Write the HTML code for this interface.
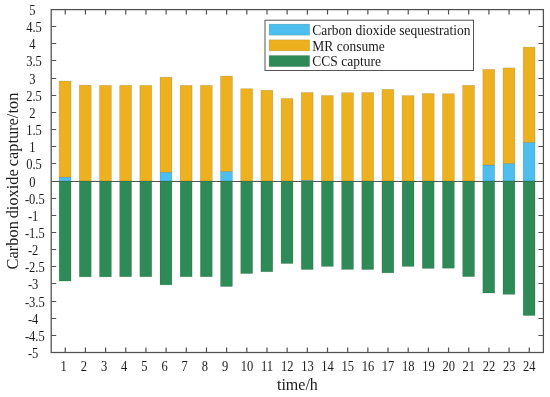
<!DOCTYPE html>
<html><head><meta charset="utf-8"><style>html,body{margin:0;padding:0;background:#fff;}svg{display:block;}</style></head>
<body><svg width="550" height="397" viewBox="0 0 550 397"><rect x="0" y="0" width="550" height="397" fill="#fff"/><line x1="51.2" y1="181.5" x2="543.4" y2="181.5" stroke="#555" stroke-width="1"/><rect x="59.15" y="177.15" width="11.9" height="4.00" fill="#4dbeee" stroke="#000" stroke-opacity="0.16" stroke-width="0.7"/><rect x="59.15" y="81.06" width="11.9" height="96.09" fill="#edb120" stroke="#000" stroke-opacity="0.16" stroke-width="0.7"/><rect x="59.15" y="181.15" width="11.9" height="99.90" fill="#2e8b57" stroke="#000" stroke-opacity="0.16" stroke-width="0.7"/><rect x="79.32" y="85.20" width="11.9" height="95.95" fill="#edb120" stroke="#000" stroke-opacity="0.16" stroke-width="0.7"/><rect x="79.32" y="181.15" width="11.9" height="95.70" fill="#2e8b57" stroke="#000" stroke-opacity="0.16" stroke-width="0.7"/><rect x="99.50" y="85.35" width="11.9" height="95.80" fill="#edb120" stroke="#000" stroke-opacity="0.16" stroke-width="0.7"/><rect x="99.50" y="181.15" width="11.9" height="95.70" fill="#2e8b57" stroke="#000" stroke-opacity="0.16" stroke-width="0.7"/><rect x="119.67" y="85.35" width="11.9" height="95.80" fill="#edb120" stroke="#000" stroke-opacity="0.16" stroke-width="0.7"/><rect x="119.67" y="181.15" width="11.9" height="95.60" fill="#2e8b57" stroke="#000" stroke-opacity="0.16" stroke-width="0.7"/><rect x="139.85" y="85.40" width="11.9" height="95.75" fill="#edb120" stroke="#000" stroke-opacity="0.16" stroke-width="0.7"/><rect x="139.85" y="181.15" width="11.9" height="95.60" fill="#2e8b57" stroke="#000" stroke-opacity="0.16" stroke-width="0.7"/><rect x="160.02" y="172.20" width="11.9" height="8.95" fill="#4dbeee" stroke="#000" stroke-opacity="0.16" stroke-width="0.7"/><rect x="160.02" y="77.20" width="11.9" height="95.00" fill="#edb120" stroke="#000" stroke-opacity="0.16" stroke-width="0.7"/><rect x="160.02" y="181.15" width="11.9" height="103.70" fill="#2e8b57" stroke="#000" stroke-opacity="0.16" stroke-width="0.7"/><rect x="180.19" y="85.40" width="11.9" height="95.75" fill="#edb120" stroke="#000" stroke-opacity="0.16" stroke-width="0.7"/><rect x="180.19" y="181.15" width="11.9" height="95.60" fill="#2e8b57" stroke="#000" stroke-opacity="0.16" stroke-width="0.7"/><rect x="200.37" y="85.40" width="11.9" height="95.75" fill="#edb120" stroke="#000" stroke-opacity="0.16" stroke-width="0.7"/><rect x="200.37" y="181.15" width="11.9" height="95.60" fill="#2e8b57" stroke="#000" stroke-opacity="0.16" stroke-width="0.7"/><rect x="220.54" y="171.40" width="11.9" height="9.75" fill="#4dbeee" stroke="#000" stroke-opacity="0.16" stroke-width="0.7"/><rect x="220.54" y="76.10" width="11.9" height="95.30" fill="#edb120" stroke="#000" stroke-opacity="0.16" stroke-width="0.7"/><rect x="220.54" y="181.15" width="11.9" height="105.40" fill="#2e8b57" stroke="#000" stroke-opacity="0.16" stroke-width="0.7"/><rect x="240.72" y="88.70" width="11.9" height="92.45" fill="#edb120" stroke="#000" stroke-opacity="0.16" stroke-width="0.7"/><rect x="240.72" y="181.15" width="11.9" height="92.40" fill="#2e8b57" stroke="#000" stroke-opacity="0.16" stroke-width="0.7"/><rect x="260.89" y="90.30" width="11.9" height="90.85" fill="#edb120" stroke="#000" stroke-opacity="0.16" stroke-width="0.7"/><rect x="260.89" y="181.15" width="11.9" height="90.60" fill="#2e8b57" stroke="#000" stroke-opacity="0.16" stroke-width="0.7"/><rect x="281.06" y="98.50" width="11.9" height="82.65" fill="#edb120" stroke="#000" stroke-opacity="0.16" stroke-width="0.7"/><rect x="281.06" y="181.15" width="11.9" height="82.40" fill="#2e8b57" stroke="#000" stroke-opacity="0.16" stroke-width="0.7"/><rect x="301.24" y="180.30" width="11.9" height="0.85" fill="#4dbeee" stroke="#000" stroke-opacity="0.16" stroke-width="0.7"/><rect x="301.24" y="92.50" width="11.9" height="87.80" fill="#edb120" stroke="#000" stroke-opacity="0.16" stroke-width="0.7"/><rect x="301.24" y="181.15" width="11.9" height="88.40" fill="#2e8b57" stroke="#000" stroke-opacity="0.16" stroke-width="0.7"/><rect x="321.41" y="95.50" width="11.9" height="85.65" fill="#edb120" stroke="#000" stroke-opacity="0.16" stroke-width="0.7"/><rect x="321.41" y="181.15" width="11.9" height="85.30" fill="#2e8b57" stroke="#000" stroke-opacity="0.16" stroke-width="0.7"/><rect x="341.59" y="92.70" width="11.9" height="88.45" fill="#edb120" stroke="#000" stroke-opacity="0.16" stroke-width="0.7"/><rect x="341.59" y="181.15" width="11.9" height="88.30" fill="#2e8b57" stroke="#000" stroke-opacity="0.16" stroke-width="0.7"/><rect x="361.76" y="92.50" width="11.9" height="88.65" fill="#edb120" stroke="#000" stroke-opacity="0.16" stroke-width="0.7"/><rect x="361.76" y="181.15" width="11.9" height="88.40" fill="#2e8b57" stroke="#000" stroke-opacity="0.16" stroke-width="0.7"/><rect x="381.93" y="89.40" width="11.9" height="91.75" fill="#edb120" stroke="#000" stroke-opacity="0.16" stroke-width="0.7"/><rect x="381.93" y="181.15" width="11.9" height="91.70" fill="#2e8b57" stroke="#000" stroke-opacity="0.16" stroke-width="0.7"/><rect x="402.11" y="95.60" width="11.9" height="85.55" fill="#edb120" stroke="#000" stroke-opacity="0.16" stroke-width="0.7"/><rect x="402.11" y="181.15" width="11.9" height="85.30" fill="#2e8b57" stroke="#000" stroke-opacity="0.16" stroke-width="0.7"/><rect x="422.28" y="93.50" width="11.9" height="87.65" fill="#edb120" stroke="#000" stroke-opacity="0.16" stroke-width="0.7"/><rect x="422.28" y="181.15" width="11.9" height="87.30" fill="#2e8b57" stroke="#000" stroke-opacity="0.16" stroke-width="0.7"/><rect x="442.46" y="93.70" width="11.9" height="87.45" fill="#edb120" stroke="#000" stroke-opacity="0.16" stroke-width="0.7"/><rect x="442.46" y="181.15" width="11.9" height="87.10" fill="#2e8b57" stroke="#000" stroke-opacity="0.16" stroke-width="0.7"/><rect x="462.63" y="85.35" width="11.9" height="95.80" fill="#edb120" stroke="#000" stroke-opacity="0.16" stroke-width="0.7"/><rect x="462.63" y="181.15" width="11.9" height="95.50" fill="#2e8b57" stroke="#000" stroke-opacity="0.16" stroke-width="0.7"/><rect x="482.80" y="164.90" width="11.9" height="16.25" fill="#4dbeee" stroke="#000" stroke-opacity="0.16" stroke-width="0.7"/><rect x="482.80" y="69.40" width="11.9" height="95.50" fill="#edb120" stroke="#000" stroke-opacity="0.16" stroke-width="0.7"/><rect x="482.80" y="181.15" width="11.9" height="111.85" fill="#2e8b57" stroke="#000" stroke-opacity="0.16" stroke-width="0.7"/><rect x="502.98" y="163.40" width="11.9" height="17.75" fill="#4dbeee" stroke="#000" stroke-opacity="0.16" stroke-width="0.7"/><rect x="502.98" y="67.90" width="11.9" height="95.50" fill="#edb120" stroke="#000" stroke-opacity="0.16" stroke-width="0.7"/><rect x="502.98" y="181.15" width="11.9" height="113.20" fill="#2e8b57" stroke="#000" stroke-opacity="0.16" stroke-width="0.7"/><rect x="523.15" y="142.30" width="11.9" height="38.85" fill="#4dbeee" stroke="#000" stroke-opacity="0.16" stroke-width="0.7"/><rect x="523.15" y="47.15" width="11.9" height="95.15" fill="#edb120" stroke="#000" stroke-opacity="0.16" stroke-width="0.7"/><rect x="523.15" y="181.15" width="11.9" height="134.40" fill="#2e8b57" stroke="#000" stroke-opacity="0.16" stroke-width="0.7"/><rect x="51.2" y="9.6" width="492.20" height="342.90" fill="none" stroke="#505050" stroke-width="1.25"/><path d="M65.25 9.6V14.6M65.25 352.5V347.5M85.42 9.6V14.6M85.42 352.5V347.5M105.60 9.6V14.6M105.60 352.5V347.5M125.77 9.6V14.6M125.77 352.5V347.5M145.95 9.6V14.6M145.95 352.5V347.5M166.12 9.6V14.6M166.12 352.5V347.5M186.29 9.6V14.6M186.29 352.5V347.5M206.47 9.6V14.6M206.47 352.5V347.5M226.64 9.6V14.6M226.64 352.5V347.5M246.82 9.6V14.6M246.82 352.5V347.5M266.99 9.6V14.6M266.99 352.5V347.5M287.16 9.6V14.6M287.16 352.5V347.5M307.34 9.6V14.6M307.34 352.5V347.5M327.51 9.6V14.6M327.51 352.5V347.5M347.69 9.6V14.6M347.69 352.5V347.5M367.86 9.6V14.6M367.86 352.5V347.5M388.03 9.6V14.6M388.03 352.5V347.5M408.21 9.6V14.6M408.21 352.5V347.5M428.38 9.6V14.6M428.38 352.5V347.5M448.56 9.6V14.6M448.56 352.5V347.5M468.73 9.6V14.6M468.73 352.5V347.5M488.90 9.6V14.6M488.90 352.5V347.5M509.08 9.6V14.6M509.08 352.5V347.5M529.25 9.6V14.6M529.25 352.5V347.5M51.2 352.50H56.2M543.4 352.50H538.4M51.2 335.50H56.2M543.4 335.50H538.4M51.2 318.50H56.2M543.4 318.50H538.4M51.2 301.50H56.2M543.4 301.50H538.4M51.2 283.50H56.2M543.4 283.50H538.4M51.2 266.50H56.2M543.4 266.50H538.4M51.2 249.50H56.2M543.4 249.50H538.4M51.2 232.50H56.2M543.4 232.50H538.4M51.2 215.50H56.2M543.4 215.50H538.4M51.2 198.50H56.2M543.4 198.50H538.4M51.2 181.50H56.2M543.4 181.50H538.4M51.2 163.50H56.2M543.4 163.50H538.4M51.2 146.50H56.2M543.4 146.50H538.4M51.2 129.50H56.2M543.4 129.50H538.4M51.2 112.50H56.2M543.4 112.50H538.4M51.2 95.50H56.2M543.4 95.50H538.4M51.2 78.50H56.2M543.4 78.50H538.4M51.2 60.50H56.2M543.4 60.50H538.4M51.2 43.50H56.2M543.4 43.50H538.4M51.2 26.50H56.2M543.4 26.50H538.4M51.2 9.50H56.2M543.4 9.50H538.4" stroke="#505050" stroke-width="1.2" fill="none"/><g font-family="Liberation Serif, Times New Roman, serif" font-size="13.33" fill="#1a1a1a"><text transform="translate(33.09 358.00) scale(0.94 1.07)" text-anchor="middle">-5</text><text transform="translate(34.79 340.85) scale(0.94 1.07)" text-anchor="middle">-4.5</text><text transform="translate(33.09 323.70) scale(0.94 1.07)" text-anchor="middle">-4</text><text transform="translate(34.79 306.55) scale(0.94 1.07)" text-anchor="middle">-3.5</text><text transform="translate(33.09 289.40) scale(0.94 1.07)" text-anchor="middle">-3</text><text transform="translate(34.79 272.25) scale(0.94 1.07)" text-anchor="middle">-2.5</text><text transform="translate(33.09 255.10) scale(0.94 1.07)" text-anchor="middle">-2</text><text transform="translate(34.79 237.95) scale(0.94 1.07)" text-anchor="middle">-1.5</text><text transform="translate(33.09 220.80) scale(0.94 1.07)" text-anchor="middle">-1</text><text transform="translate(34.79 203.65) scale(0.94 1.07)" text-anchor="middle">-0.5</text><text transform="translate(32.33 186.50) scale(0.94 1.07)" text-anchor="middle">0</text><text transform="translate(34.03 169.35) scale(0.94 1.07)" text-anchor="middle">0.5</text><text transform="translate(32.33 152.20) scale(0.94 1.07)" text-anchor="middle">1</text><text transform="translate(34.03 135.05) scale(0.94 1.07)" text-anchor="middle">1.5</text><text transform="translate(32.33 117.90) scale(0.94 1.07)" text-anchor="middle">2</text><text transform="translate(34.03 100.75) scale(0.94 1.07)" text-anchor="middle">2.5</text><text transform="translate(32.33 83.60) scale(0.94 1.07)" text-anchor="middle">3</text><text transform="translate(34.03 66.45) scale(0.94 1.07)" text-anchor="middle">3.5</text><text transform="translate(32.33 49.30) scale(0.94 1.07)" text-anchor="middle">4</text><text transform="translate(34.03 32.15) scale(0.94 1.07)" text-anchor="middle">4.5</text><text transform="translate(32.33 15.00) scale(0.94 1.07)" text-anchor="middle">5</text><text transform="translate(63.67 370.80) scale(0.94 1.07)" text-anchor="middle">1</text><text transform="translate(83.84 370.80) scale(0.94 1.07)" text-anchor="middle">2</text><text transform="translate(104.01 370.80) scale(0.94 1.07)" text-anchor="middle">3</text><text transform="translate(124.19 370.80) scale(0.94 1.07)" text-anchor="middle">4</text><text transform="translate(144.36 370.80) scale(0.94 1.07)" text-anchor="middle">5</text><text transform="translate(164.54 370.80) scale(0.94 1.07)" text-anchor="middle">6</text><text transform="translate(184.71 370.80) scale(0.94 1.07)" text-anchor="middle">7</text><text transform="translate(204.88 370.80) scale(0.94 1.07)" text-anchor="middle">8</text><text transform="translate(225.06 370.80) scale(0.94 1.07)" text-anchor="middle">9</text><text transform="translate(246.90 370.80) scale(0.94 1.07)" text-anchor="middle">10</text><text transform="translate(267.07 370.80) scale(0.94 1.07)" text-anchor="middle">11</text><text transform="translate(287.25 370.80) scale(0.94 1.07)" text-anchor="middle">12</text><text transform="translate(307.42 370.80) scale(0.94 1.07)" text-anchor="middle">13</text><text transform="translate(327.59 370.80) scale(0.94 1.07)" text-anchor="middle">14</text><text transform="translate(347.77 370.80) scale(0.94 1.07)" text-anchor="middle">15</text><text transform="translate(367.94 370.80) scale(0.94 1.07)" text-anchor="middle">16</text><text transform="translate(388.12 370.80) scale(0.94 1.07)" text-anchor="middle">17</text><text transform="translate(408.29 370.80) scale(0.94 1.07)" text-anchor="middle">18</text><text transform="translate(428.46 370.80) scale(0.94 1.07)" text-anchor="middle">19</text><text transform="translate(448.64 370.80) scale(0.94 1.07)" text-anchor="middle">20</text><text transform="translate(468.81 370.80) scale(0.94 1.07)" text-anchor="middle">21</text><text transform="translate(488.99 370.80) scale(0.94 1.07)" text-anchor="middle">22</text><text transform="translate(509.16 370.80) scale(0.94 1.07)" text-anchor="middle">23</text><text transform="translate(529.33 370.80) scale(0.94 1.07)" text-anchor="middle">24</text></g><text x="297.4" y="389.5" text-anchor="middle" font-family="Liberation Serif, Times New Roman, serif" font-size="16" fill="#1a1a1a">time/h</text><text transform="translate(17.7 181.0) rotate(-90)" x="0" y="0" text-anchor="middle" word-spacing="-1.3" font-family="Liberation Serif, Times New Roman, serif" font-size="16.4" fill="#1a1a1a">Carbon dioxide capture/ton</text><rect x="265" y="20.2" width="208.5" height="50.3" fill="#fff" stroke="#555" stroke-width="1"/><rect x="269.1" y="24.10" width="40.5" height="11.1" fill="#4dbeee" stroke="#000" stroke-opacity="0.16" stroke-width="0.7"/><text transform="translate(312.3 34.80) scale(1 1.1)" font-family="Liberation Serif, Times New Roman, serif" font-size="13.5" fill="#1a1a1a">Carbon dioxide sequestration</text><rect x="269.1" y="39.80" width="40.5" height="11.1" fill="#edb120" stroke="#000" stroke-opacity="0.16" stroke-width="0.7"/><text transform="translate(312.3 50.50) scale(1 1.1)" font-family="Liberation Serif, Times New Roman, serif" font-size="13.5" fill="#1a1a1a">MR consume</text><rect x="269.1" y="55.50" width="40.5" height="11.1" fill="#2e8b57" stroke="#000" stroke-opacity="0.16" stroke-width="0.7"/><text transform="translate(312.3 66.20) scale(1 1.1)" font-family="Liberation Serif, Times New Roman, serif" font-size="13.5" fill="#1a1a1a">CCS capture</text></svg></body></html>
